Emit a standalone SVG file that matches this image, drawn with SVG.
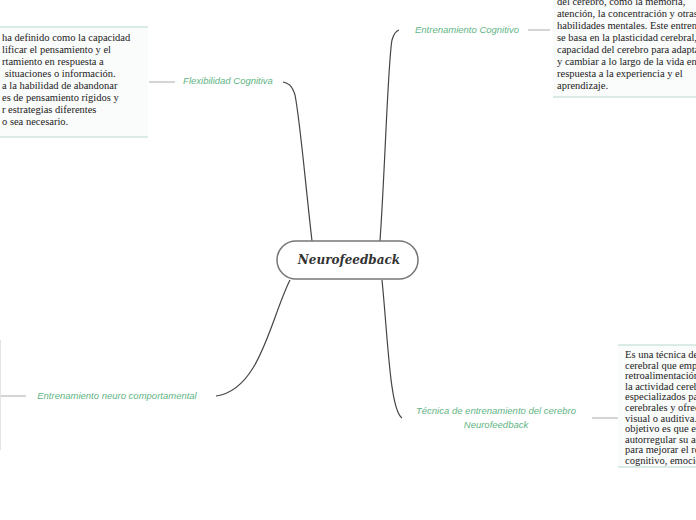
<svg xmlns="http://www.w3.org/2000/svg" width="696" height="520" viewBox="0 0 696 520">
<style>
.box{fill:#fafbfb}
.rule{stroke:#cfe5dc;stroke-width:1.5}
.t{font-family:"Liberation Serif",serif;font-size:10.5px;fill:#222}
.lab{font-family:"Liberation Sans",sans-serif;font-style:italic;font-size:9.5px;fill:#5fb585}
.c{fill:none;stroke:#444;stroke-width:1.2}
.g{stroke:#aaa;stroke-width:1}
</style>
<rect width="696" height="520" fill="#fff"/>
<g id="connectors">
<path class="c" d="M312 241 C305 180 300 120 295 95 C292 85 288 83 283 82"/>
<path class="c" d="M380 241 C385 170 388 60 392 40 C394 33 396 31 399 30"/>
<path class="c" d="M290 280 C270 320 260 390 216 396"/>
<path class="c" d="M382 280 C388 340 390 410 402 418"/>
<line class="g" x1="149" y1="82" x2="175" y2="82"/>
<line class="g" x1="528" y1="30" x2="550" y2="30"/>
<line class="g" x1="0" y1="396" x2="26" y2="396"/>
<line class="g" x1="592" y1="418" x2="618" y2="418"/>
<line x1="0.5" y1="340" x2="0.5" y2="450" stroke="#e4e4e4" stroke-width="1"/>
</g>
<g id="center">
<rect x="277" y="241" width="141" height="38" rx="19" fill="#fff" stroke="#777" stroke-width="1.5"/>
<text x="349" y="264" text-anchor="middle" font-family="DejaVu Serif,serif" font-weight="bold" font-style="italic" font-size="12" fill="#333">Neurofeedback</text>
</g>
<g id="flex">
<text class="lab" x="228" y="84" text-anchor="middle">Flexibilidad Cognitiva</text>
<rect class="box" x="0" y="27" width="148" height="110"/>
<line class="rule" x1="0" y1="27" x2="148" y2="27"/>
<line class="rule" x1="0" y1="137" x2="148" y2="137"/>
<text class="t"><tspan x="2" y="41">ha definido como la capacidad</tspan><tspan x="2" y="53">lificar el pensamiento y el</tspan><tspan x="2" y="65">rtamiento en respuesta a</tspan><tspan x="2" y="77"> situaciones o información.</tspan><tspan x="2" y="89">a la habilidad de abandonar</tspan><tspan x="2" y="101">es de pensamiento rígidos y</tspan><tspan x="2" y="113">r estrategias diferentes</tspan><tspan x="2" y="125">o sea necesario.</tspan></text>
</g>
<g id="cog">
<text class="lab" x="467" y="33" text-anchor="middle">Entrenamiento Cognitivo</text>
<rect class="box" x="553" y="0" width="143" height="97"/>
<line class="rule" x1="553" y1="97" x2="696" y2="97"/>
<text class="t"><tspan x="557" y="5">del cerebro, como la memoria,</tspan><tspan x="557" y="17">atención, la concentración y otras</tspan><tspan x="557" y="29">habilidades mentales. Este entrenamiento</tspan><tspan x="557" y="41">se basa en la plasticidad cerebral, la</tspan><tspan x="557" y="53">capacidad del cerebro para adaptarse</tspan><tspan x="557" y="65">y cambiar a lo largo de la vida en</tspan><tspan x="557" y="77">respuesta a la experiencia y el</tspan><tspan x="557" y="89">aprendizaje.</tspan></text>
</g>
<g id="neuro">
<text class="lab" x="117" y="399" text-anchor="middle">Entrenamiento neuro comportamental</text>
</g>
<g id="tec">
<text class="lab" text-anchor="middle"><tspan x="496" y="414">Técnica de entrenamiento del cerebro</tspan><tspan x="496" y="428">Neurofeedback</tspan></text>
<rect class="box" x="618" y="345" width="78" height="122"/>
<line class="rule" x1="618" y1="345" x2="696" y2="345"/>
<line class="rule" x1="618" y1="467" x2="696" y2="467"/>
<text class="t" font-size="10.2"><tspan x="625" y="358">Es una técnica de entrenamiento</tspan><tspan x="625" y="368.6">cerebral que emplea la</tspan><tspan x="625" y="379.2">retroalimentación en tiempo real de</tspan><tspan x="625" y="389.8">la actividad cerebral con equipos</tspan><tspan x="625" y="400.4">especializados para medir ondas</tspan><tspan x="625" y="411">cerebrales y ofrecer información</tspan><tspan x="625" y="421.6">visual o auditiva. Su</tspan><tspan x="625" y="432.2">objetivo es que el usuario aprenda a</tspan><tspan x="625" y="442.8">autorregular su actividad cerebral</tspan><tspan x="625" y="453.4">para mejorar el rendimiento</tspan><tspan x="625" y="464">cognitivo, emocional.</tspan></text>
</g>
</svg>
